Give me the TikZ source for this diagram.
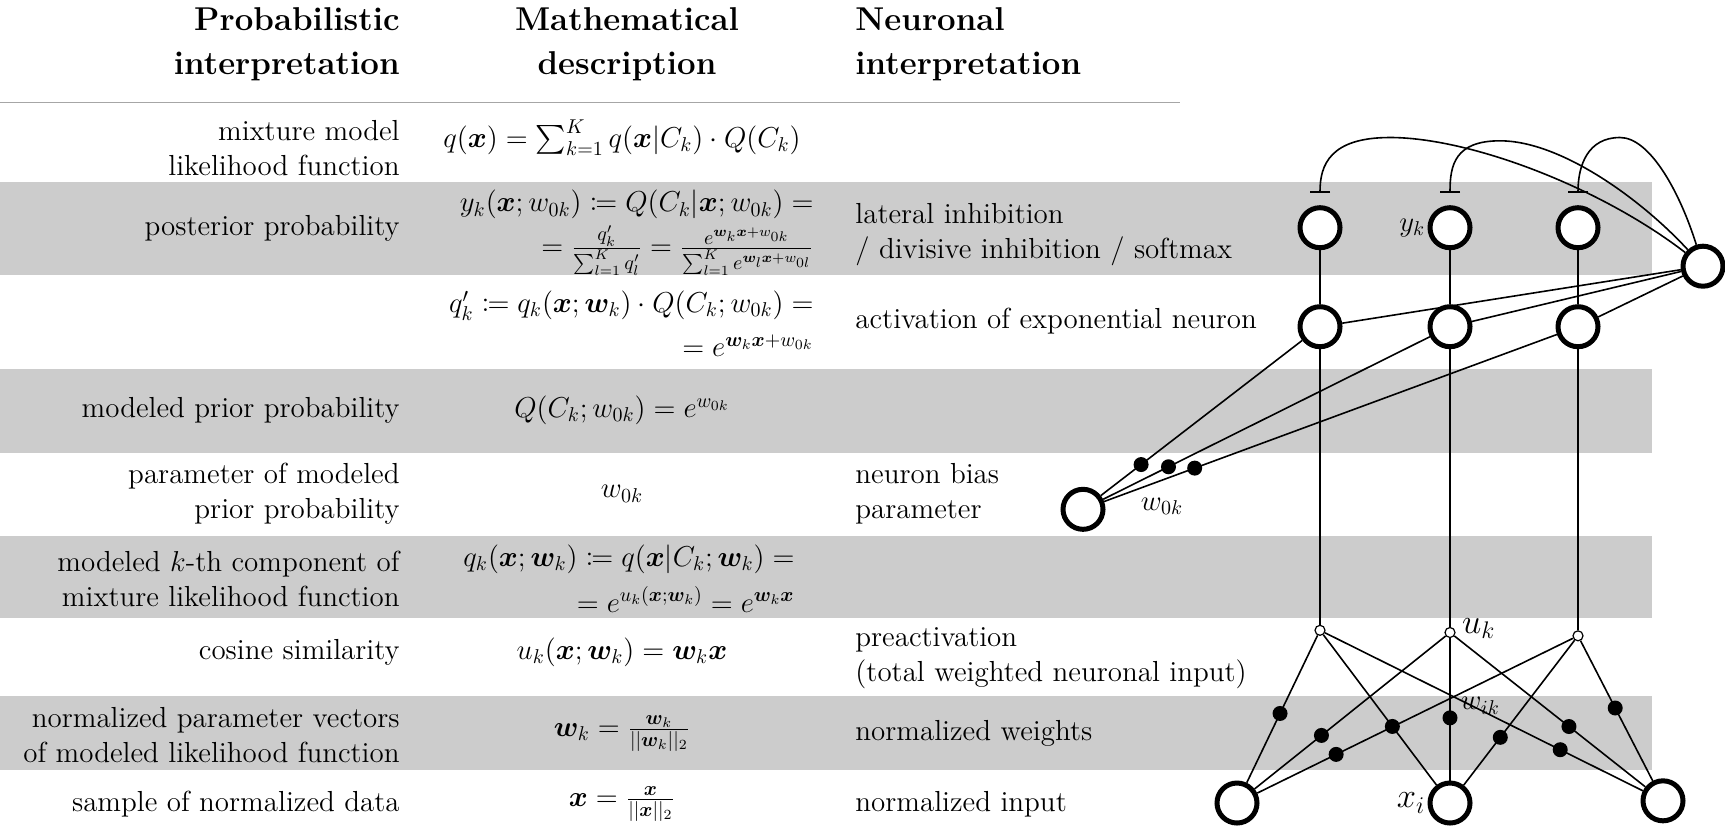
\documentclass[tikz,border=0pt]{standalone}
\usepackage{amsmath,bm,mathtools}
\usetikzlibrary{arrows.meta}
\begin{document}
\begin{tikzpicture}[x=0.5pt,y=-0.55pt,
  band/.style={fill=black!20,draw=none},
  bodyf/.style={font=\fontsize{14.5}{17.5}\selectfont},
  lt/.style={bodyf,anchor=east,align=right,inner sep=0pt},
  mt/.style={bodyf,inner sep=0pt},
  rt/.style={bodyf,anchor=west,align=left,inner sep=0pt},
  hd/.style={font=\fontsize{16.5}{22}\selectfont\bfseries,inner sep=0pt},
  neuron/.style={circle,draw,line width=2.5pt,minimum size=20pt,inner sep=0pt,fill=white},
  unode/.style={circle,draw,line width=0.6pt,minimum size=5pt,inner sep=0pt,fill=white},
  wdot/.style={circle,fill=black,minimum size=7.5pt,inner sep=0pt},
  conn/.style={line width=0.8pt},
  inh/.style={line width=0.8pt,-{Bar[width=10pt,line width=1.2pt]}}]
\useasboundingbox (0,0) rectangle (1725,752);
% bands
\fill[band] (0,165) rectangle (1652,250);
\fill[band] (0,335) rectangle (1652,412);
\fill[band] (0,487) rectangle (1652,562);
\fill[band] (0,633) rectangle (1652,700);
\draw[black!35,line width=0.8pt] (0,93) -- (1180,93);
% headers
\node[hd,anchor=east,align=right] (h1) at (400,40) {Probabilistic\\interpretation};
\node[hd,align=center] (h2) at (627,40) {Mathematical\\description};
\node[hd,anchor=west,align=left] (h3) at (855,40) {Neuronal\\interpretation};
% left column
\node[lt] (l1) at (400,135) {mixture model\\likelihood function};
\node[lt] (l2) at (400,208) {posterior probability};
\node[lt] (l4) at (400,373) {modeled prior probability};
\node[lt] (l5) at (400,449) {parameter of modeled\\prior probability};
\node[lt] (l6) at (400,526) {modeled $k$-th component of\\mixture likelihood function};
\node[lt] (l7) at (400,593) {cosine similarity};
\node[lt] (l8) at (400,668) {normalized parameter vectors\\of modeled likelihood function};
\node[lt] (l9) at (400,731) {sample of normalized data};
% middle column
\node[mt] (m1) at (622,125) {$q(\bm x)=\sum_{k=1}^{K} q(\bm x|C_k)\cdot Q(C_k)$};
\node[mt,anchor=east] (m2a) at (814,186) {$y_k(\bm x;w_{0k})\coloneqq Q(C_k|\bm x;w_{0k})=$};
\node[mt,anchor=east] (m2b) at (814,228) {$=\frac{q'_k}{\sum_{l=1}^{K} q'_l}=\frac{e^{\bm w_k\bm x+w_{0k}}}{\sum_{l=1}^{K} e^{\bm w_l\bm x+w_{0l}}}$};
\node[mt,anchor=east] (m3a) at (814,278) {$q'_k\coloneqq q_k(\bm x;\bm w_k)\cdot Q(C_k;w_{0k})=$};
\node[mt,anchor=east] (m3b) at (814,314) {$=e^{\bm w_k\bm x+w_{0k}}$};
\node[mt] (m4) at (622,373) {$Q(C_k;w_{0k})=e^{w_{0k}}$};
\node[mt] (m5) at (622,449) {$w_{0k}$};
\node[mt,anchor=east] (m6a) at (795,508) {$q_k(\bm x;\bm w_k)\coloneqq q(\bm x|C_k;\bm w_k)=$};
\node[mt,anchor=east] (m6b) at (795,545) {$=e^{u_k(\bm x;\bm w_k)}=e^{\bm w_k\bm x}$};
\node[mt] (m7) at (622,593) {$u_k(\bm x;\bm w_k)=\bm w_k\bm x$};
\node[mt] (m8) at (622,667) {$\bm w_k=\frac{\bm w_k}{||\bm w_k||_2}$};
\node[mt] (m9) at (622,731) {$\bm x=\frac{\bm x}{||\bm x||_2}$};
% right column
\node[rt] (r2) at (855,213) {lateral inhibition\\/ divisive inhibition / softmax};
\node[rt] (r3) at (855,292) {activation of exponential neuron};
\node[rt] (r5) at (855,449) {neuron bias\\parameter};
\node[rt] (r7) at (855,598) {preactivation\\(total weighted neuronal input)};
\node[rt] (r8) at (855,667) {normalized weights};
\node[rt] (r9) at (855,731) {normalized input};
% network
\node[neuron] (y1) at (1320,207) {};
\node[neuron] (y2) at (1450,207) {};
\node[neuron] (y3) at (1578,207) {};
\node[neuron] (in) at (1703,242) {};
\node[neuron] (e1) at (1320,297) {};
\node[neuron] (e2) at (1450,297) {};
\node[neuron] (e3) at (1578,297) {};
\node[neuron] (b) at (1083,463) {};
\node[unode] (u1) at (1320,573) {};
\node[unode] (u2) at (1450,575) {};
\node[unode] (u3) at (1578,578) {};
\node[neuron] (x1) at (1237,730) {};
\node[neuron] (x2) at (1450,730) {};
\node[neuron] (x3) at (1663,728) {};
\foreach \i in {1,2,3}{
  \draw[conn] (y\i) -- (e\i);
  \draw[conn] (e\i) -- (u\i);
  \draw[conn] (e\i) -- (in);
  \draw[conn] (b) -- node[wdot,pos=0.2]{} (e\i);
}
\draw[inh] (in) .. controls (1600,170) and (1470,125) .. (1390,125) .. controls (1330,125) and (1320,150) .. ([yshift=6pt]y1.north);
\draw[inh] (in) .. controls (1640,180) and (1560,128) .. (1500,128) .. controls (1455,128) and (1450,150) .. ([yshift=6pt]y2.north);
\draw[inh] (in) .. controls (1680,175) and (1650,125) .. (1620,125) .. controls (1588,125) and (1578,150) .. ([yshift=6pt]y3.north);
% input weights
\draw[conn] (x1) -- node[wdot,pos=0.47]{} (u1);
\draw[conn] (x1) -- node[wdot,pos=0.35]{} (u2);
\draw[conn] (x1) -- node[wdot,pos=0.25]{} (u3);
\draw[conn] (x2) -- node[wdot,pos=0.39]{} (u1);
\draw[conn] (x2) -- node[wdot,pos=0.44](wik){} (u2);
\draw[conn] (x2) -- node[wdot,pos=0.33]{} (u3);
\draw[conn] (x3) -- node[wdot,pos=0.26]{} (u1);
\draw[conn] (x3) -- node[wdot,pos=0.4]{} (u2);
\draw[conn] (x3) -- node[wdot,pos=0.52]{} (u3);
% labels
\node[bodyf,anchor=east,inner sep=1pt] (ly) at (y2.west) {$y_k$};
\node[bodyf,inner sep=0pt] (lw0) at (1162,460) {$w_{0k}$};
\node[font=\LARGE,anchor=west,inner sep=1pt] (lu) at ([xshift=2pt,yshift=2pt]u2.east) {$u_k$};
\node[bodyf,anchor=west,inner sep=0pt] (lw) at ([xshift=1pt,yshift=6pt]wik.east) {$w_{ik}$};
\node[font=\LARGE,anchor=east,inner sep=1pt] (lx) at (x2.west) {$x_i$};
\end{tikzpicture}
\end{document}
